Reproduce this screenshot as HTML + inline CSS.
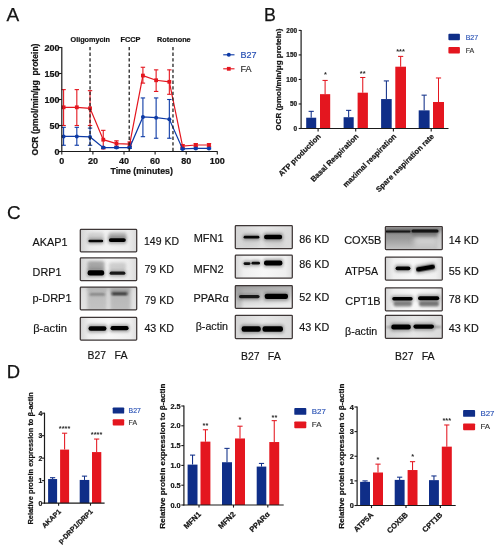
<!DOCTYPE html>
<html lang="en">
<head>
<meta charset="utf-8">
<title>Figure</title>
<style>
html,body{margin:0;padding:0;background:#fff;}
body{width:499px;height:550px;overflow:hidden;}
svg{display:block;font-family:"Liberation Sans",Arial,Helvetica,sans-serif;}
</style>
</head>
<body>
<svg width="499" height="550" viewBox="0 0 499 550">
<defs>
<filter id="b0" x="-20%" y="-100%" width="140%" height="300%"><feGaussianBlur stdDeviation="0.7"/></filter>
<filter id="b1" x="-20%" y="-100%" width="140%" height="300%"><feGaussianBlur stdDeviation="0.9"/></filter>
<filter id="b2" x="-20%" y="-100%" width="140%" height="300%"><feGaussianBlur stdDeviation="1.6"/></filter>
<filter id="b3" x="-30%" y="-100%" width="160%" height="300%"><feGaussianBlur stdDeviation="2.6"/></filter>
<linearGradient id="gL" x1="0" x2="1" y1="0" y2="0"><stop offset="0" stop-color="#d2d2d2"/><stop offset="0.18" stop-color="#ececec"/><stop offset="0.5" stop-color="#f3f3f3"/><stop offset="0.85" stop-color="#ececec"/><stop offset="1" stop-color="#dadada"/></linearGradient>
<linearGradient id="gM" x1="0" x2="0.25" y1="0" y2="1"><stop offset="0" stop-color="#959595"/><stop offset="0.5" stop-color="#c6c6c6"/><stop offset="1" stop-color="#ebebeb"/></linearGradient>
<linearGradient id="gW" x1="0" x2="1" y1="0" y2="0"><stop offset="0" stop-color="#d6d6d6"/><stop offset="0.15" stop-color="#efefef"/><stop offset="0.5" stop-color="#f7f7f7"/><stop offset="0.88" stop-color="#efefef"/><stop offset="1" stop-color="#dedede"/></linearGradient>
<linearGradient id="gG" x1="0" x2="1" y1="0" y2="0"><stop offset="0" stop-color="#d4d4d4"/><stop offset="0.5" stop-color="#e6e6e6"/><stop offset="1" stop-color="#dadada"/></linearGradient>
<linearGradient id="gP" x1="0" x2="0" y1="0" y2="1"><stop offset="0" stop-color="#b4b4b4"/><stop offset="0.25" stop-color="#cacaca"/><stop offset="1" stop-color="#d6d6d6"/></linearGradient>
<linearGradient id="gC" x1="0" x2="0" y1="0" y2="1"><stop offset="0" stop-color="#cfcfcf"/><stop offset="0.1" stop-color="#858585"/><stop offset="0.5" stop-color="#999999"/><stop offset="1" stop-color="#c4c4c4"/></linearGradient>
</defs>
<rect x="0" y="0" width="499" height="550" fill="#ffffff"/>
<text x="6.60" y="20.70" font-size="17.9" fill="#141414" textLength="12.70" lengthAdjust="spacingAndGlyphs" stroke="#141414" stroke-width="0.25">A</text>
<text x="263.90" y="20.50" font-size="17.8" fill="#141414" stroke="#141414" stroke-width="0.25">B</text>
<text x="7.10" y="219.30" font-size="18.8" fill="#141414" stroke="#141414" stroke-width="0.25">C</text>
<text x="6.70" y="377.80" font-size="18.4" fill="#141414" stroke="#141414" stroke-width="0.25">D</text>
<line x1="63.60" y1="125.50" x2="63.60" y2="89.62" stroke="#e4161f" stroke-width="1.1" />
<line x1="61.40" y1="125.50" x2="65.80" y2="125.50" stroke="#e4161f" stroke-width="1.1" />
<line x1="61.40" y1="89.62" x2="65.80" y2="89.62" stroke="#e4161f" stroke-width="1.1" />
<line x1="76.82" y1="125.50" x2="76.82" y2="89.62" stroke="#e4161f" stroke-width="1.1" />
<line x1="74.62" y1="125.50" x2="79.02" y2="125.50" stroke="#e4161f" stroke-width="1.1" />
<line x1="74.62" y1="89.62" x2="79.02" y2="89.62" stroke="#e4161f" stroke-width="1.1" />
<line x1="90.04" y1="125.50" x2="90.04" y2="90.66" stroke="#e4161f" stroke-width="1.1" />
<line x1="87.84" y1="125.50" x2="92.24" y2="125.50" stroke="#e4161f" stroke-width="1.1" />
<line x1="87.84" y1="90.66" x2="92.24" y2="90.66" stroke="#e4161f" stroke-width="1.1" />
<line x1="103.26" y1="148.90" x2="103.26" y2="130.34" stroke="#e4161f" stroke-width="1.1" />
<line x1="101.06" y1="148.90" x2="105.46" y2="148.90" stroke="#e4161f" stroke-width="1.1" />
<line x1="101.06" y1="130.34" x2="105.46" y2="130.34" stroke="#e4161f" stroke-width="1.1" />
<line x1="116.47" y1="146.30" x2="116.47" y2="140.79" stroke="#e4161f" stroke-width="1.1" />
<line x1="114.27" y1="146.30" x2="118.67" y2="146.30" stroke="#e4161f" stroke-width="1.1" />
<line x1="114.27" y1="140.79" x2="118.67" y2="140.79" stroke="#e4161f" stroke-width="1.1" />
<line x1="129.69" y1="146.30" x2="129.69" y2="141.88" stroke="#e4161f" stroke-width="1.1" />
<line x1="127.49" y1="146.30" x2="131.89" y2="146.30" stroke="#e4161f" stroke-width="1.1" />
<line x1="127.49" y1="141.88" x2="131.89" y2="141.88" stroke="#e4161f" stroke-width="1.1" />
<line x1="142.91" y1="83.12" x2="142.91" y2="67.26" stroke="#e4161f" stroke-width="1.1" />
<line x1="140.71" y1="83.12" x2="145.11" y2="83.12" stroke="#e4161f" stroke-width="1.1" />
<line x1="140.71" y1="67.26" x2="145.11" y2="67.26" stroke="#e4161f" stroke-width="1.1" />
<line x1="156.13" y1="91.44" x2="156.13" y2="69.86" stroke="#e4161f" stroke-width="1.1" />
<line x1="153.93" y1="91.44" x2="158.33" y2="91.44" stroke="#e4161f" stroke-width="1.1" />
<line x1="153.93" y1="69.86" x2="158.33" y2="69.86" stroke="#e4161f" stroke-width="1.1" />
<line x1="169.34" y1="94.30" x2="169.34" y2="69.86" stroke="#e4161f" stroke-width="1.1" />
<line x1="167.14" y1="94.30" x2="171.54" y2="94.30" stroke="#e4161f" stroke-width="1.1" />
<line x1="167.14" y1="69.86" x2="171.54" y2="69.86" stroke="#e4161f" stroke-width="1.1" />
<line x1="182.56" y1="147.34" x2="182.56" y2="144.74" stroke="#e4161f" stroke-width="1.1" />
<line x1="180.36" y1="147.34" x2="184.76" y2="147.34" stroke="#e4161f" stroke-width="1.1" />
<line x1="180.36" y1="144.74" x2="184.76" y2="144.74" stroke="#e4161f" stroke-width="1.1" />
<line x1="195.78" y1="146.30" x2="195.78" y2="143.70" stroke="#e4161f" stroke-width="1.1" />
<line x1="193.58" y1="146.30" x2="197.98" y2="146.30" stroke="#e4161f" stroke-width="1.1" />
<line x1="193.58" y1="143.70" x2="197.98" y2="143.70" stroke="#e4161f" stroke-width="1.1" />
<line x1="209.00" y1="146.30" x2="209.00" y2="143.70" stroke="#e4161f" stroke-width="1.1" />
<line x1="206.80" y1="146.30" x2="211.20" y2="146.30" stroke="#e4161f" stroke-width="1.1" />
<line x1="206.80" y1="143.70" x2="211.20" y2="143.70" stroke="#e4161f" stroke-width="1.1" />
<polyline points="63.60,107.30 76.82,107.30 90.04,108.34 103.26,139.70 116.47,143.54 129.69,144.12 142.91,75.58 156.13,80.26 169.34,81.82 182.56,146.04 195.78,145.00 209.00,145.00" fill="none" stroke="#e4161f" stroke-width="1.2"/>
<rect x="61.70" y="105.40" width="3.80" height="3.80" fill="#e4161f" />
<rect x="74.92" y="105.40" width="3.80" height="3.80" fill="#e4161f" />
<rect x="88.14" y="106.44" width="3.80" height="3.80" fill="#e4161f" />
<rect x="101.36" y="137.80" width="3.80" height="3.80" fill="#e4161f" />
<rect x="114.57" y="141.64" width="3.80" height="3.80" fill="#e4161f" />
<rect x="127.79" y="142.22" width="3.80" height="3.80" fill="#e4161f" />
<rect x="141.01" y="73.68" width="3.80" height="3.80" fill="#e4161f" />
<rect x="154.23" y="78.36" width="3.80" height="3.80" fill="#e4161f" />
<rect x="167.44" y="79.92" width="3.80" height="3.80" fill="#e4161f" />
<rect x="180.66" y="144.14" width="3.80" height="3.80" fill="#e4161f" />
<rect x="193.88" y="143.10" width="3.80" height="3.80" fill="#e4161f" />
<rect x="207.10" y="143.10" width="3.80" height="3.80" fill="#e4161f" />
<line x1="63.60" y1="145.26" x2="63.60" y2="127.32" stroke="#0d3aa6" stroke-width="1.1" />
<line x1="61.40" y1="145.26" x2="65.80" y2="145.26" stroke="#0d3aa6" stroke-width="1.1" />
<line x1="61.40" y1="127.32" x2="65.80" y2="127.32" stroke="#0d3aa6" stroke-width="1.1" />
<line x1="76.82" y1="145.26" x2="76.82" y2="127.32" stroke="#0d3aa6" stroke-width="1.1" />
<line x1="74.62" y1="145.26" x2="79.02" y2="145.26" stroke="#0d3aa6" stroke-width="1.1" />
<line x1="74.62" y1="127.32" x2="79.02" y2="127.32" stroke="#0d3aa6" stroke-width="1.1" />
<line x1="90.04" y1="145.26" x2="90.04" y2="128.10" stroke="#0d3aa6" stroke-width="1.1" />
<line x1="87.84" y1="145.26" x2="92.24" y2="145.26" stroke="#0d3aa6" stroke-width="1.1" />
<line x1="87.84" y1="128.10" x2="92.24" y2="128.10" stroke="#0d3aa6" stroke-width="1.1" />
<line x1="103.26" y1="148.38" x2="103.26" y2="146.82" stroke="#0d3aa6" stroke-width="1.1" />
<line x1="101.06" y1="148.38" x2="105.46" y2="148.38" stroke="#0d3aa6" stroke-width="1.1" />
<line x1="101.06" y1="146.82" x2="105.46" y2="146.82" stroke="#0d3aa6" stroke-width="1.1" />
<line x1="116.47" y1="148.38" x2="116.47" y2="146.82" stroke="#0d3aa6" stroke-width="1.1" />
<line x1="114.27" y1="148.38" x2="118.67" y2="148.38" stroke="#0d3aa6" stroke-width="1.1" />
<line x1="114.27" y1="146.82" x2="118.67" y2="146.82" stroke="#0d3aa6" stroke-width="1.1" />
<line x1="129.69" y1="148.38" x2="129.69" y2="146.82" stroke="#0d3aa6" stroke-width="1.1" />
<line x1="127.49" y1="148.38" x2="131.89" y2="148.38" stroke="#0d3aa6" stroke-width="1.1" />
<line x1="127.49" y1="146.82" x2="131.89" y2="146.82" stroke="#0d3aa6" stroke-width="1.1" />
<line x1="142.91" y1="136.68" x2="142.91" y2="97.94" stroke="#0d3aa6" stroke-width="1.1" />
<line x1="140.71" y1="136.68" x2="145.11" y2="136.68" stroke="#0d3aa6" stroke-width="1.1" />
<line x1="140.71" y1="97.94" x2="145.11" y2="97.94" stroke="#0d3aa6" stroke-width="1.1" />
<line x1="156.13" y1="138.24" x2="156.13" y2="97.94" stroke="#0d3aa6" stroke-width="1.1" />
<line x1="153.93" y1="138.24" x2="158.33" y2="138.24" stroke="#0d3aa6" stroke-width="1.1" />
<line x1="153.93" y1="97.94" x2="158.33" y2="97.94" stroke="#0d3aa6" stroke-width="1.1" />
<line x1="169.34" y1="138.24" x2="169.34" y2="99.50" stroke="#0d3aa6" stroke-width="1.1" />
<line x1="167.14" y1="138.24" x2="171.54" y2="138.24" stroke="#0d3aa6" stroke-width="1.1" />
<line x1="167.14" y1="99.50" x2="171.54" y2="99.50" stroke="#0d3aa6" stroke-width="1.1" />
<line x1="182.56" y1="149.42" x2="182.56" y2="148.38" stroke="#0d3aa6" stroke-width="1.1" />
<line x1="180.36" y1="149.42" x2="184.76" y2="149.42" stroke="#0d3aa6" stroke-width="1.1" />
<line x1="180.36" y1="148.38" x2="184.76" y2="148.38" stroke="#0d3aa6" stroke-width="1.1" />
<line x1="195.78" y1="148.90" x2="195.78" y2="147.86" stroke="#0d3aa6" stroke-width="1.1" />
<line x1="193.58" y1="148.90" x2="197.98" y2="148.90" stroke="#0d3aa6" stroke-width="1.1" />
<line x1="193.58" y1="147.86" x2="197.98" y2="147.86" stroke="#0d3aa6" stroke-width="1.1" />
<line x1="209.00" y1="148.90" x2="209.00" y2="147.86" stroke="#0d3aa6" stroke-width="1.1" />
<line x1="206.80" y1="148.90" x2="211.20" y2="148.90" stroke="#0d3aa6" stroke-width="1.1" />
<line x1="206.80" y1="147.86" x2="211.20" y2="147.86" stroke="#0d3aa6" stroke-width="1.1" />
<polyline points="63.60,136.42 76.82,136.42 90.04,136.94 103.26,147.60 116.47,147.60 129.69,147.60 142.91,116.92 156.13,117.70 169.34,119.26 182.56,148.90 195.78,148.38 209.00,148.38" fill="none" stroke="#0d3aa6" stroke-width="1.2"/>
<circle cx="63.60" cy="136.42" r="2" fill="#0d3aa6"/>
<circle cx="76.82" cy="136.42" r="2" fill="#0d3aa6"/>
<circle cx="90.04" cy="136.94" r="2" fill="#0d3aa6"/>
<circle cx="103.26" cy="147.60" r="2" fill="#0d3aa6"/>
<circle cx="116.47" cy="147.60" r="2" fill="#0d3aa6"/>
<circle cx="129.69" cy="147.60" r="2" fill="#0d3aa6"/>
<circle cx="142.91" cy="116.92" r="2" fill="#0d3aa6"/>
<circle cx="156.13" cy="117.70" r="2" fill="#0d3aa6"/>
<circle cx="169.34" cy="119.26" r="2" fill="#0d3aa6"/>
<circle cx="182.56" cy="148.90" r="2" fill="#0d3aa6"/>
<circle cx="195.78" cy="148.38" r="2" fill="#0d3aa6"/>
<circle cx="209.00" cy="148.38" r="2" fill="#0d3aa6"/>
<line x1="90.04" y1="47.00" x2="90.04" y2="151.50" stroke="#1c1c1c" stroke-width="1.25" stroke-dasharray="3.3 2.3"/>
<line x1="129.21" y1="47.00" x2="129.21" y2="151.50" stroke="#1c1c1c" stroke-width="1.25" stroke-dasharray="3.3 2.3"/>
<line x1="172.98" y1="47.00" x2="172.98" y2="151.50" stroke="#1c1c1c" stroke-width="1.25" stroke-dasharray="3.3 2.3"/>
<line x1="61.80" y1="47.00" x2="61.80" y2="152.10" stroke="#1a1a1a" stroke-width="1.2" />
<line x1="61.20" y1="151.50" x2="217.60" y2="151.50" stroke="#1a1a1a" stroke-width="1.2" />
<line x1="58.80" y1="151.50" x2="61.80" y2="151.50" stroke="#1a1a1a" stroke-width="1.1" />
<text x="59.50" y="154.70" font-size="9.0" font-weight="bold" stroke="#141414" stroke-width="0.22" text-anchor="end" fill="#141414" >0</text>
<line x1="58.80" y1="125.50" x2="61.80" y2="125.50" stroke="#1a1a1a" stroke-width="1.1" />
<text x="59.50" y="128.70" font-size="9.0" font-weight="bold" stroke="#141414" stroke-width="0.22" text-anchor="end" fill="#141414" >50</text>
<line x1="58.80" y1="99.50" x2="61.80" y2="99.50" stroke="#1a1a1a" stroke-width="1.1" />
<text x="59.50" y="102.70" font-size="9.0" font-weight="bold" stroke="#141414" stroke-width="0.22" text-anchor="end" fill="#141414" >100</text>
<line x1="58.80" y1="73.50" x2="61.80" y2="73.50" stroke="#1a1a1a" stroke-width="1.1" />
<text x="59.50" y="76.70" font-size="9.0" font-weight="bold" stroke="#141414" stroke-width="0.22" text-anchor="end" fill="#141414" >150</text>
<line x1="58.80" y1="47.50" x2="61.80" y2="47.50" stroke="#1a1a1a" stroke-width="1.1" />
<text x="59.50" y="50.70" font-size="9.0" font-weight="bold" stroke="#141414" stroke-width="0.22" text-anchor="end" fill="#141414" >200</text>
<line x1="61.80" y1="151.50" x2="61.80" y2="154.50" stroke="#1a1a1a" stroke-width="1.1" />
<text x="61.80" y="163.80" font-size="9.0" font-weight="bold" stroke="#141414" stroke-width="0.22" text-anchor="middle" fill="#141414" >0</text>
<line x1="92.90" y1="151.50" x2="92.90" y2="154.50" stroke="#1a1a1a" stroke-width="1.1" />
<text x="92.90" y="163.80" font-size="9.0" font-weight="bold" stroke="#141414" stroke-width="0.22" text-anchor="middle" fill="#141414" >20</text>
<line x1="124.00" y1="151.50" x2="124.00" y2="154.50" stroke="#1a1a1a" stroke-width="1.1" />
<text x="124.00" y="163.80" font-size="9.0" font-weight="bold" stroke="#141414" stroke-width="0.22" text-anchor="middle" fill="#141414" >40</text>
<line x1="155.10" y1="151.50" x2="155.10" y2="154.50" stroke="#1a1a1a" stroke-width="1.1" />
<text x="155.10" y="163.80" font-size="9.0" font-weight="bold" stroke="#141414" stroke-width="0.22" text-anchor="middle" fill="#141414" >60</text>
<line x1="186.20" y1="151.50" x2="186.20" y2="154.50" stroke="#1a1a1a" stroke-width="1.1" />
<text x="186.20" y="163.80" font-size="9.0" font-weight="bold" stroke="#141414" stroke-width="0.22" text-anchor="middle" fill="#141414" >80</text>
<line x1="217.30" y1="151.50" x2="217.30" y2="154.50" stroke="#1a1a1a" stroke-width="1.1" />
<text x="217.30" y="163.80" font-size="9.0" font-weight="bold" stroke="#141414" stroke-width="0.22" text-anchor="middle" fill="#141414" >100</text>
<text x="141.70" y="173.60" font-size="8.8" font-weight="bold" stroke="#141414" stroke-width="0.22" text-anchor="middle" fill="#141414" textLength="62.50" lengthAdjust="spacingAndGlyphs" >Time (minutes)</text>
<text x="37.70" y="155.50" font-size="8.6" font-weight="bold" stroke="#141414" stroke-width="0.22" fill="#141414" transform="rotate(-90 37.70 155.50)" textLength="112.00" lengthAdjust="spacingAndGlyphs" >OCR (pmol/min/μg&#160; protein)</text>
<text x="70.50" y="42.40" font-size="7.3" font-weight="bold" stroke="#141414" stroke-width="0.22" fill="#141414" textLength="39.50" lengthAdjust="spacingAndGlyphs" >Oligomycin</text>
<text x="120.50" y="42.40" font-size="7.3" font-weight="bold" stroke="#141414" stroke-width="0.22" fill="#141414" >FCCP</text>
<text x="157.00" y="42.40" font-size="7.3" font-weight="bold" stroke="#141414" stroke-width="0.22" fill="#141414" >Rotenone</text>
<line x1="223.20" y1="54.80" x2="234.50" y2="54.80" stroke="#0d3aa6" stroke-width="1.1" />
<circle cx="228.8" cy="54.8" r="2" fill="#0d3aa6"/>
<line x1="223.20" y1="68.80" x2="234.50" y2="68.80" stroke="#e4161f" stroke-width="1.1" />
<rect x="226.90" y="66.90" width="3.80" height="3.80" fill="#e4161f" />
<text x="240.50" y="58.00" font-size="9" fill="#2a52b5" stroke="#2a52b5" stroke-width="0.2">B27</text>
<text x="240.50" y="71.90" font-size="9" fill="#333" stroke="#333" stroke-width="0.2">FA</text>
<rect x="306.20" y="117.71" width="10.00" height="10.79" fill="#0f2e88" />
<line x1="311.20" y1="117.71" x2="311.20" y2="111.33" stroke="#0f2e88" stroke-width="1.05" />
<line x1="308.60" y1="111.33" x2="313.80" y2="111.33" stroke="#0f2e88" stroke-width="1.05" />
<rect x="320.00" y="94.16" width="10.20" height="34.34" fill="#e4161f" />
<line x1="325.10" y1="94.16" x2="325.10" y2="80.43" stroke="#e4161f" stroke-width="1.05" />
<line x1="322.50" y1="80.43" x2="327.70" y2="80.43" stroke="#e4161f" stroke-width="1.05" />
<rect x="343.60" y="117.22" width="10.10" height="11.28" fill="#0f2e88" />
<line x1="348.65" y1="117.22" x2="348.65" y2="110.35" stroke="#0f2e88" stroke-width="1.05" />
<line x1="346.05" y1="110.35" x2="351.25" y2="110.35" stroke="#0f2e88" stroke-width="1.05" />
<rect x="357.60" y="92.69" width="10.30" height="35.81" fill="#e4161f" />
<line x1="362.75" y1="92.69" x2="362.75" y2="77.49" stroke="#e4161f" stroke-width="1.05" />
<line x1="360.15" y1="77.49" x2="365.35" y2="77.49" stroke="#e4161f" stroke-width="1.05" />
<rect x="381.10" y="99.07" width="10.60" height="29.43" fill="#0f2e88" />
<line x1="386.40" y1="99.07" x2="386.40" y2="80.92" stroke="#0f2e88" stroke-width="1.05" />
<line x1="383.80" y1="80.92" x2="389.00" y2="80.92" stroke="#0f2e88" stroke-width="1.05" />
<rect x="395.30" y="66.70" width="10.70" height="61.80" fill="#e4161f" />
<line x1="400.65" y1="66.70" x2="400.65" y2="56.40" stroke="#e4161f" stroke-width="1.05" />
<line x1="398.05" y1="56.40" x2="403.25" y2="56.40" stroke="#e4161f" stroke-width="1.05" />
<rect x="418.70" y="110.35" width="10.90" height="18.15" fill="#0f2e88" />
<line x1="424.15" y1="110.35" x2="424.15" y2="95.15" stroke="#0f2e88" stroke-width="1.05" />
<line x1="421.55" y1="95.15" x2="426.75" y2="95.15" stroke="#0f2e88" stroke-width="1.05" />
<rect x="433.00" y="102.01" width="11.00" height="26.49" fill="#e4161f" />
<line x1="438.50" y1="102.01" x2="438.50" y2="77.98" stroke="#e4161f" stroke-width="1.05" />
<line x1="435.90" y1="77.98" x2="441.10" y2="77.98" stroke="#e4161f" stroke-width="1.05" />
<line x1="301.10" y1="30.00" x2="301.10" y2="129.10" stroke="#1a1a1a" stroke-width="1.2" />
<line x1="300.50" y1="128.50" x2="448.50" y2="128.50" stroke="#1a1a1a" stroke-width="1.2" />
<line x1="298.70" y1="128.50" x2="301.10" y2="128.50" stroke="#1a1a1a" stroke-width="1.1" />
<text x="297.00" y="130.80" font-size="6.4" font-weight="bold" stroke="#141414" stroke-width="0.22" text-anchor="end" fill="#141414" >0</text>
<line x1="298.70" y1="103.97" x2="301.10" y2="103.97" stroke="#1a1a1a" stroke-width="1.1" />
<text x="297.00" y="106.27" font-size="6.4" font-weight="bold" stroke="#141414" stroke-width="0.22" text-anchor="end" fill="#141414" >50</text>
<line x1="298.70" y1="79.45" x2="301.10" y2="79.45" stroke="#1a1a1a" stroke-width="1.1" />
<text x="297.00" y="81.75" font-size="6.4" font-weight="bold" stroke="#141414" stroke-width="0.22" text-anchor="end" fill="#141414" >100</text>
<line x1="298.70" y1="54.92" x2="301.10" y2="54.92" stroke="#1a1a1a" stroke-width="1.1" />
<text x="297.00" y="57.22" font-size="6.4" font-weight="bold" stroke="#141414" stroke-width="0.22" text-anchor="end" fill="#141414" >150</text>
<line x1="298.70" y1="30.40" x2="301.10" y2="30.40" stroke="#1a1a1a" stroke-width="1.1" />
<text x="297.00" y="32.70" font-size="6.4" font-weight="bold" stroke="#141414" stroke-width="0.22" text-anchor="end" fill="#141414" >200</text>
<line x1="318.10" y1="128.50" x2="318.10" y2="131.50" stroke="#1a1a1a" stroke-width="1.1" />
<text x="321.40" y="137.00" font-size="7.6" font-weight="bold" stroke="#141414" stroke-width="0.22" text-anchor="end" fill="#141414" transform="rotate(-45 321.40 137.00)" >ATP production</text>
<line x1="355.70" y1="128.50" x2="355.70" y2="131.50" stroke="#1a1a1a" stroke-width="1.1" />
<text x="359.00" y="137.00" font-size="7.6" font-weight="bold" stroke="#141414" stroke-width="0.22" text-anchor="end" fill="#141414" transform="rotate(-45 359.00 137.00)" >Basal Respiration</text>
<line x1="393.40" y1="128.50" x2="393.40" y2="131.50" stroke="#1a1a1a" stroke-width="1.1" />
<text x="396.70" y="137.00" font-size="7.6" font-weight="bold" stroke="#141414" stroke-width="0.22" text-anchor="end" fill="#141414" transform="rotate(-45 396.70 137.00)" >maximal respiration</text>
<line x1="431.20" y1="128.50" x2="431.20" y2="131.50" stroke="#1a1a1a" stroke-width="1.1" />
<text x="434.50" y="137.00" font-size="7.6" font-weight="bold" stroke="#141414" stroke-width="0.22" text-anchor="end" fill="#141414" transform="rotate(-45 434.50 137.00)" >Spare respiration rate</text>
<text x="281.30" y="130.50" font-size="7.5" font-weight="bold" stroke="#141414" stroke-width="0.22" fill="#141414" transform="rotate(-90 281.30 130.50)" textLength="102.00" lengthAdjust="spacingAndGlyphs" >OCR (pmol/min/μg protein)</text>
<text x="325.40" y="76.60" font-size="7.4" text-anchor="middle" fill="#2a2a2a" font-weight="bold">*</text>
<text x="362.70" y="75.50" font-size="7.4" text-anchor="middle" fill="#2a2a2a" font-weight="bold">**</text>
<text x="400.50" y="54.00" font-size="7.4" text-anchor="middle" fill="#2a2a2a" font-weight="bold">***</text>
<rect x="448.40" y="33.80" width="11.50" height="6.40" fill="#0f2e88" rx="0.9"/>
<rect x="448.40" y="47.10" width="11.50" height="6.40" fill="#e4161f" rx="0.9"/>
<text x="465.70" y="39.80" font-size="7.0" fill="#2a52b5" stroke="#2a52b5" stroke-width="0.15">B27</text>
<text x="465.70" y="53.00" font-size="7.0" fill="#333" stroke="#333" stroke-width="0.15">FA</text>
<rect x="48.10" y="479.05" width="9.00" height="24.05" fill="#0f2e88" />
<line x1="52.60" y1="479.05" x2="52.60" y2="477.70" stroke="#0f2e88" stroke-width="1.05" />
<line x1="50.00" y1="477.70" x2="55.20" y2="477.70" stroke="#0f2e88" stroke-width="1.05" />
<rect x="60.10" y="449.61" width="9.00" height="53.49" fill="#e4161f" />
<line x1="64.60" y1="449.61" x2="64.60" y2="433.20" stroke="#e4161f" stroke-width="1.05" />
<line x1="62.00" y1="433.20" x2="67.20" y2="433.20" stroke="#e4161f" stroke-width="1.05" />
<rect x="79.70" y="479.95" width="9.60" height="23.15" fill="#0f2e88" />
<line x1="84.50" y1="479.95" x2="84.50" y2="476.13" stroke="#0f2e88" stroke-width="1.05" />
<line x1="81.90" y1="476.13" x2="87.10" y2="476.13" stroke="#0f2e88" stroke-width="1.05" />
<rect x="92.00" y="452.08" width="9.30" height="51.02" fill="#e4161f" />
<line x1="96.65" y1="452.08" x2="96.65" y2="439.05" stroke="#e4161f" stroke-width="1.05" />
<line x1="94.05" y1="439.05" x2="99.25" y2="439.05" stroke="#e4161f" stroke-width="1.05" />
<line x1="44.50" y1="412.70" x2="44.50" y2="503.70" stroke="#1a1a1a" stroke-width="1.2" />
<line x1="43.90" y1="503.10" x2="104.60" y2="503.10" stroke="#1a1a1a" stroke-width="1.2" />
<line x1="41.90" y1="503.10" x2="44.50" y2="503.10" stroke="#1a1a1a" stroke-width="1.1" />
<text x="42.40" y="505.55" font-size="6.8" font-weight="bold" stroke="#141414" stroke-width="0.22" text-anchor="end" fill="#141414" >0</text>
<line x1="41.90" y1="480.62" x2="44.50" y2="480.62" stroke="#1a1a1a" stroke-width="1.1" />
<text x="42.40" y="483.07" font-size="6.8" font-weight="bold" stroke="#141414" stroke-width="0.22" text-anchor="end" fill="#141414" >1</text>
<line x1="41.90" y1="458.15" x2="44.50" y2="458.15" stroke="#1a1a1a" stroke-width="1.1" />
<text x="42.40" y="460.60" font-size="6.8" font-weight="bold" stroke="#141414" stroke-width="0.22" text-anchor="end" fill="#141414" >2</text>
<line x1="41.90" y1="435.68" x2="44.50" y2="435.68" stroke="#1a1a1a" stroke-width="1.1" />
<text x="42.40" y="438.12" font-size="6.8" font-weight="bold" stroke="#141414" stroke-width="0.22" text-anchor="end" fill="#141414" >3</text>
<line x1="41.90" y1="413.20" x2="44.50" y2="413.20" stroke="#1a1a1a" stroke-width="1.1" />
<text x="42.40" y="415.65" font-size="6.8" font-weight="bold" stroke="#141414" stroke-width="0.22" text-anchor="end" fill="#141414" >4</text>
<line x1="58.60" y1="503.10" x2="58.60" y2="505.70" stroke="#1a1a1a" stroke-width="1.1" />
<text x="61.40" y="511.90" font-size="6.95" font-weight="bold" stroke="#141414" stroke-width="0.22" text-anchor="end" fill="#141414" transform="rotate(-45 61.40 511.90)" >AKAP1</text>
<line x1="90.50" y1="503.10" x2="90.50" y2="505.70" stroke="#1a1a1a" stroke-width="1.1" />
<text x="93.30" y="511.90" font-size="6.95" font-weight="bold" stroke="#141414" stroke-width="0.22" text-anchor="end" fill="#141414" transform="rotate(-45 93.30 511.90)" >p-DRP1/DRP1</text>
<text x="32.60" y="524.60" font-size="7.8" font-weight="bold" stroke="#141414" stroke-width="0.22" fill="#141414" transform="rotate(-90 32.60 524.60)" textLength="132.40" lengthAdjust="spacingAndGlyphs" >Relative protein expression to β-actin</text>
<rect x="112.70" y="407.40" width="11.50" height="6.20" fill="#0f2e88" rx="0.9"/>
<rect x="112.70" y="419.30" width="11.50" height="6.20" fill="#e4161f" rx="0.9"/>
<text x="128.60" y="413.10" font-size="6.9" fill="#2a52b5" stroke="#2a52b5" stroke-width="0.15">B27</text>
<text x="128.60" y="425.00" font-size="6.9" fill="#333" stroke="#333" stroke-width="0.15">FA</text>
<text x="64.60" y="431.10" font-size="7.4" text-anchor="middle" fill="#2a2a2a" font-weight="bold">****</text>
<text x="96.60" y="437.10" font-size="7.4" text-anchor="middle" fill="#2a2a2a" font-weight="bold">****</text>
<rect x="187.60" y="464.61" width="9.90" height="40.39" fill="#0f2e88" />
<line x1="192.55" y1="464.61" x2="192.55" y2="455.10" stroke="#0f2e88" stroke-width="1.05" />
<line x1="189.95" y1="455.10" x2="195.15" y2="455.10" stroke="#0f2e88" stroke-width="1.05" />
<rect x="200.50" y="441.64" width="9.90" height="63.36" fill="#e4161f" />
<line x1="205.45" y1="441.64" x2="205.45" y2="429.76" stroke="#e4161f" stroke-width="1.05" />
<line x1="202.85" y1="429.76" x2="208.05" y2="429.76" stroke="#e4161f" stroke-width="1.05" />
<rect x="222.00" y="462.23" width="10.00" height="42.77" fill="#0f2e88" />
<line x1="227.00" y1="462.23" x2="227.00" y2="448.37" stroke="#0f2e88" stroke-width="1.05" />
<line x1="224.40" y1="448.37" x2="229.60" y2="448.37" stroke="#0f2e88" stroke-width="1.05" />
<rect x="235.00" y="438.47" width="10.00" height="66.53" fill="#e4161f" />
<line x1="240.00" y1="438.47" x2="240.00" y2="426.20" stroke="#e4161f" stroke-width="1.05" />
<line x1="237.40" y1="426.20" x2="242.60" y2="426.20" stroke="#e4161f" stroke-width="1.05" />
<rect x="256.70" y="466.59" width="9.60" height="38.41" fill="#0f2e88" />
<line x1="261.50" y1="466.59" x2="261.50" y2="463.42" stroke="#0f2e88" stroke-width="1.05" />
<line x1="258.90" y1="463.42" x2="264.10" y2="463.42" stroke="#0f2e88" stroke-width="1.05" />
<rect x="269.30" y="442.04" width="9.90" height="62.96" fill="#e4161f" />
<line x1="274.25" y1="442.04" x2="274.25" y2="420.65" stroke="#e4161f" stroke-width="1.05" />
<line x1="271.65" y1="420.65" x2="276.85" y2="420.65" stroke="#e4161f" stroke-width="1.05" />
<line x1="183.90" y1="405.50" x2="183.90" y2="505.60" stroke="#1a1a1a" stroke-width="1.2" />
<line x1="183.30" y1="505.00" x2="283.70" y2="505.00" stroke="#1a1a1a" stroke-width="1.2" />
<line x1="181.30" y1="505.00" x2="183.90" y2="505.00" stroke="#1a1a1a" stroke-width="1.1" />
<text x="180.60" y="507.63" font-size="7.3" font-weight="bold" stroke="#141414" stroke-width="0.22" text-anchor="end" fill="#141414" >0.0</text>
<line x1="181.30" y1="485.20" x2="183.90" y2="485.20" stroke="#1a1a1a" stroke-width="1.1" />
<text x="180.60" y="487.83" font-size="7.3" font-weight="bold" stroke="#141414" stroke-width="0.22" text-anchor="end" fill="#141414" >0.5</text>
<line x1="181.30" y1="465.40" x2="183.90" y2="465.40" stroke="#1a1a1a" stroke-width="1.1" />
<text x="180.60" y="468.03" font-size="7.3" font-weight="bold" stroke="#141414" stroke-width="0.22" text-anchor="end" fill="#141414" >1.0</text>
<line x1="181.30" y1="445.60" x2="183.90" y2="445.60" stroke="#1a1a1a" stroke-width="1.1" />
<text x="180.60" y="448.23" font-size="7.3" font-weight="bold" stroke="#141414" stroke-width="0.22" text-anchor="end" fill="#141414" >1.5</text>
<line x1="181.30" y1="425.80" x2="183.90" y2="425.80" stroke="#1a1a1a" stroke-width="1.1" />
<text x="180.60" y="428.43" font-size="7.3" font-weight="bold" stroke="#141414" stroke-width="0.22" text-anchor="end" fill="#141414" >2.0</text>
<line x1="181.30" y1="406.00" x2="183.90" y2="406.00" stroke="#1a1a1a" stroke-width="1.1" />
<text x="180.60" y="408.63" font-size="7.3" font-weight="bold" stroke="#141414" stroke-width="0.22" text-anchor="end" fill="#141414" >2.5</text>
<line x1="199.00" y1="505.00" x2="199.00" y2="507.60" stroke="#1a1a1a" stroke-width="1.1" />
<text x="201.40" y="514.80" font-size="7.55" font-weight="bold" stroke="#141414" stroke-width="0.22" text-anchor="end" fill="#141414" transform="rotate(-45 201.40 514.80)" >MFN1</text>
<line x1="233.50" y1="505.00" x2="233.50" y2="507.60" stroke="#1a1a1a" stroke-width="1.1" />
<text x="235.90" y="514.80" font-size="7.55" font-weight="bold" stroke="#141414" stroke-width="0.22" text-anchor="end" fill="#141414" transform="rotate(-45 235.90 514.80)" >MFN2</text>
<line x1="267.80" y1="505.00" x2="267.80" y2="507.60" stroke="#1a1a1a" stroke-width="1.1" />
<text x="270.20" y="514.80" font-size="7.55" font-weight="bold" stroke="#141414" stroke-width="0.22" text-anchor="end" fill="#141414" transform="rotate(-45 270.20 514.80)" >PPARα</text>
<text x="165.40" y="528.70" font-size="7.8" font-weight="bold" stroke="#141414" stroke-width="0.22" fill="#141414" transform="rotate(-90 165.40 528.70)" textLength="145.20" lengthAdjust="spacingAndGlyphs" >Relative protein expression to β-actin</text>
<rect x="294.30" y="408.00" width="12.00" height="6.80" fill="#0f2e88" rx="0.9"/>
<rect x="294.30" y="421.40" width="12.00" height="6.80" fill="#e4161f" rx="0.9"/>
<text x="311.80" y="413.70" font-size="7.9" fill="#2a52b5" stroke="#2a52b5" stroke-width="0.15">B27</text>
<text x="311.80" y="427.10" font-size="7.9" fill="#333" stroke="#333" stroke-width="0.15">FA</text>
<text x="205.40" y="427.60" font-size="7.4" text-anchor="middle" fill="#2a2a2a" font-weight="bold">**</text>
<text x="240.00" y="421.60" font-size="7.4" text-anchor="middle" fill="#2a2a2a" font-weight="bold">*</text>
<text x="274.40" y="419.60" font-size="7.4" text-anchor="middle" fill="#2a2a2a" font-weight="bold">**</text>
<rect x="360.10" y="481.86" width="9.90" height="23.64" fill="#0f2e88" />
<line x1="365.05" y1="481.86" x2="365.05" y2="480.88" stroke="#0f2e88" stroke-width="1.05" />
<line x1="362.45" y1="480.88" x2="367.65" y2="480.88" stroke="#0f2e88" stroke-width="1.05" />
<rect x="373.00" y="472.50" width="10.00" height="33.00" fill="#e4161f" />
<line x1="378.00" y1="472.50" x2="378.00" y2="464.13" stroke="#e4161f" stroke-width="1.05" />
<line x1="375.40" y1="464.13" x2="380.60" y2="464.13" stroke="#e4161f" stroke-width="1.05" />
<rect x="394.70" y="479.89" width="9.90" height="25.61" fill="#0f2e88" />
<line x1="399.65" y1="479.89" x2="399.65" y2="477.18" stroke="#0f2e88" stroke-width="1.05" />
<line x1="397.05" y1="477.18" x2="402.25" y2="477.18" stroke="#0f2e88" stroke-width="1.05" />
<rect x="407.60" y="470.04" width="9.90" height="35.46" fill="#e4161f" />
<line x1="412.55" y1="470.04" x2="412.55" y2="461.67" stroke="#e4161f" stroke-width="1.05" />
<line x1="409.95" y1="461.67" x2="415.15" y2="461.67" stroke="#e4161f" stroke-width="1.05" />
<rect x="429.00" y="480.14" width="9.90" height="25.36" fill="#0f2e88" />
<line x1="433.95" y1="480.14" x2="433.95" y2="475.95" stroke="#0f2e88" stroke-width="1.05" />
<line x1="431.35" y1="475.95" x2="436.55" y2="475.95" stroke="#0f2e88" stroke-width="1.05" />
<rect x="441.80" y="446.65" width="10.00" height="58.85" fill="#e4161f" />
<line x1="446.80" y1="446.65" x2="446.80" y2="424.98" stroke="#e4161f" stroke-width="1.05" />
<line x1="444.20" y1="424.98" x2="449.40" y2="424.98" stroke="#e4161f" stroke-width="1.05" />
<line x1="357.10" y1="406.50" x2="357.10" y2="506.10" stroke="#1a1a1a" stroke-width="1.2" />
<line x1="356.50" y1="505.50" x2="455.70" y2="505.50" stroke="#1a1a1a" stroke-width="1.2" />
<line x1="354.50" y1="505.50" x2="357.10" y2="505.50" stroke="#1a1a1a" stroke-width="1.1" />
<text x="353.80" y="508.13" font-size="7.3" font-weight="bold" stroke="#141414" stroke-width="0.22" text-anchor="end" fill="#141414" >0</text>
<line x1="354.50" y1="480.88" x2="357.10" y2="480.88" stroke="#1a1a1a" stroke-width="1.1" />
<text x="353.80" y="483.50" font-size="7.3" font-weight="bold" stroke="#141414" stroke-width="0.22" text-anchor="end" fill="#141414" >1</text>
<line x1="354.50" y1="456.25" x2="357.10" y2="456.25" stroke="#1a1a1a" stroke-width="1.1" />
<text x="353.80" y="458.88" font-size="7.3" font-weight="bold" stroke="#141414" stroke-width="0.22" text-anchor="end" fill="#141414" >2</text>
<line x1="354.50" y1="431.62" x2="357.10" y2="431.62" stroke="#1a1a1a" stroke-width="1.1" />
<text x="353.80" y="434.25" font-size="7.3" font-weight="bold" stroke="#141414" stroke-width="0.22" text-anchor="end" fill="#141414" >3</text>
<line x1="354.50" y1="407.00" x2="357.10" y2="407.00" stroke="#1a1a1a" stroke-width="1.1" />
<text x="353.80" y="409.63" font-size="7.3" font-weight="bold" stroke="#141414" stroke-width="0.22" text-anchor="end" fill="#141414" >4</text>
<line x1="371.50" y1="505.50" x2="371.50" y2="508.10" stroke="#1a1a1a" stroke-width="1.1" />
<text x="373.90" y="515.30" font-size="7.55" font-weight="bold" stroke="#141414" stroke-width="0.22" text-anchor="end" fill="#141414" transform="rotate(-45 373.90 515.30)" >ATP5A</text>
<line x1="406.00" y1="505.50" x2="406.00" y2="508.10" stroke="#1a1a1a" stroke-width="1.1" />
<text x="408.40" y="515.30" font-size="7.55" font-weight="bold" stroke="#141414" stroke-width="0.22" text-anchor="end" fill="#141414" transform="rotate(-45 408.40 515.30)" >COX5B</text>
<line x1="440.40" y1="505.50" x2="440.40" y2="508.10" stroke="#1a1a1a" stroke-width="1.1" />
<text x="442.80" y="515.30" font-size="7.55" font-weight="bold" stroke="#141414" stroke-width="0.22" text-anchor="end" fill="#141414" transform="rotate(-45 442.80 515.30)" >CPT1B</text>
<text x="344.20" y="528.70" font-size="7.8" font-weight="bold" stroke="#141414" stroke-width="0.22" fill="#141414" transform="rotate(-90 344.20 528.70)" textLength="145.20" lengthAdjust="spacingAndGlyphs" >Relative protein expression to β-actin</text>
<rect x="463.10" y="410.00" width="12.00" height="6.80" fill="#0f2e88" rx="0.9"/>
<rect x="463.10" y="423.40" width="12.00" height="6.80" fill="#e4161f" rx="0.9"/>
<text x="480.40" y="415.70" font-size="7.9" fill="#2a52b5" stroke="#2a52b5" stroke-width="0.15">B27</text>
<text x="480.40" y="429.10" font-size="7.9" fill="#333" stroke="#333" stroke-width="0.15">FA</text>
<text x="378.00" y="461.60" font-size="7.4" text-anchor="middle" fill="#2a2a2a" font-weight="bold">*</text>
<text x="412.60" y="459.20" font-size="7.4" text-anchor="middle" fill="#2a2a2a" font-weight="bold">*</text>
<text x="446.70" y="422.60" font-size="7.4" text-anchor="middle" fill="#2a2a2a" font-weight="bold">***</text>
<clipPath id="c1"><rect x="80.3" y="229.4" width="56.40" height="22.40"/></clipPath>
<rect x="80.3" y="229.4" width="56.40" height="22.40" fill="url(#gL)"/>
<g clip-path="url(#c1)">
<rect x="88.00" y="232.50" width="16.00" height="7.00" rx="2.20" fill="#999" opacity="0.35" filter="url(#b2)" />
<rect x="108.50" y="232.50" width="18.00" height="7.00" rx="2.20" fill="#777" opacity="0.5" filter="url(#b2)" />
<rect x="87.60" y="237.95" width="16.40" height="6.10" rx="2.20" fill="#444" opacity="0.4275" filter="url(#b2)" />
<rect x="88.40" y="239.65" width="14.80" height="2.70" rx="1.35" fill="#060606" opacity="0.95" filter="url(#b0)" />
<rect x="108.00" y="236.45" width="18.60" height="7.30" rx="2.20" fill="#444" opacity="0.45" filter="url(#b2)" />
<rect x="108.80" y="238.15" width="17.00" height="3.90" rx="1.95" fill="#060606" opacity="1.0" filter="url(#b0)" />
</g>
<rect x="80.3" y="229.4" width="56.40" height="22.40" rx="0.8" fill="none" stroke="#3d3636" stroke-width="1.25"/>
<clipPath id="c2"><rect x="80.3" y="257.9" width="56.40" height="22.70"/></clipPath>
<rect x="80.3" y="257.9" width="56.40" height="22.70" fill="url(#gL)"/>
<g clip-path="url(#c2)">
<rect x="87.50" y="261.00" width="17.00" height="9.00" rx="2.20" fill="#777" opacity="0.6" filter="url(#b2)" />
<rect x="109.00" y="262.50" width="17.00" height="8.00" rx="2.20" fill="#999" opacity="0.4" filter="url(#b2)" />
<rect x="86.80" y="268.50" width="18.20" height="8.60" rx="2.20" fill="#444" opacity="0.45" filter="url(#b2)" />
<rect x="87.60" y="270.20" width="16.60" height="5.20" rx="2.20" fill="#060606" opacity="1.0" filter="url(#b0)" />
<rect x="108.80" y="269.90" width="17.40" height="6.60" rx="2.20" fill="#444" opacity="0.3825" filter="url(#b2)" />
<rect x="109.60" y="271.60" width="15.80" height="3.20" rx="1.60" fill="#060606" opacity="0.85" filter="url(#b0)" />
</g>
<rect x="80.3" y="257.9" width="56.40" height="22.70" rx="0.8" fill="none" stroke="#3d3636" stroke-width="1.25"/>
<clipPath id="c3"><rect x="80.3" y="287.2" width="56.40" height="22.70"/></clipPath>
<rect x="80.3" y="287.2" width="56.40" height="22.70" fill="url(#gP)"/>
<g clip-path="url(#c3)">
<rect x="80.00" y="286.00" width="7.00" height="26.00" rx="2.20" fill="#e8e8e8" opacity="0.7" filter="url(#b2)" />
<rect x="131.00" y="286.00" width="6.00" height="26.00" rx="2.20" fill="#e8e8e8" opacity="0.7" filter="url(#b2)" />
<rect x="88.00" y="288.00" width="18.00" height="24.00" rx="2.20" fill="#a8a8a8" opacity="0.4" filter="url(#b2)" />
<rect x="110.60" y="288.00" width="19.40" height="24.00" rx="2.20" fill="#a0a0a0" opacity="0.45" filter="url(#b2)" />
<rect x="107.00" y="288.00" width="3.00" height="24.00" rx="2.20" fill="#e0e0e0" opacity="0.5" filter="url(#b1)" />
<rect x="89.50" y="293.50" width="15.50" height="1.80" rx="0.90" fill="#444" opacity="0.7" filter="url(#b1)" />
<rect x="111.60" y="292.50" width="15.90" height="2.40" rx="1.20" fill="#0c0c0c" opacity="1" filter="url(#b1)" />
<rect x="111.00" y="290.00" width="18.00" height="3.00" rx="1.50" fill="#777" opacity="0.5" filter="url(#b2)" />
</g>
<rect x="80.3" y="287.2" width="56.40" height="22.70" rx="0.8" fill="none" stroke="#3d3636" stroke-width="1.25"/>
<clipPath id="c4"><rect x="80.3" y="317.4" width="56.40" height="22.60"/></clipPath>
<rect x="80.3" y="317.4" width="56.40" height="22.60" fill="url(#gW)"/>
<g clip-path="url(#c4)">
<rect x="87.70" y="324.55" width="19.60" height="7.90" rx="2.20" fill="#444" opacity="0.45" filter="url(#b2)" />
<rect x="88.50" y="326.25" width="18.00" height="4.50" rx="2.20" fill="#060606" opacity="1.0" filter="url(#b0)" />
<rect x="109.70" y="324.40" width="19.70" height="7.60" rx="2.20" fill="#444" opacity="0.45" filter="url(#b2)" />
<rect x="110.50" y="326.10" width="18.10" height="4.20" rx="2.10" fill="#060606" opacity="1.0" filter="url(#b0)" />
</g>
<rect x="80.3" y="317.4" width="56.40" height="22.60" rx="0.8" fill="none" stroke="#3d3636" stroke-width="1.25"/>
<clipPath id="c5"><rect x="235.3" y="225.7" width="57.00" height="22.90"/></clipPath>
<rect x="235.3" y="225.7" width="57.00" height="22.90" fill="url(#gG)"/>
<g clip-path="url(#c5)">
<rect x="243.00" y="235.00" width="17.00" height="12.00" rx="2.20" fill="#c4c4c4" opacity="0.5" filter="url(#b3)" />
<rect x="264.00" y="235.00" width="19.00" height="12.00" rx="2.20" fill="#bbb" opacity="0.5" filter="url(#b3)" />
<rect x="242.80" y="234.15" width="17.40" height="6.10" rx="2.20" fill="#444" opacity="0.4275" filter="url(#b2)" />
<rect x="243.60" y="235.85" width="15.80" height="2.70" rx="1.35" fill="#060606" opacity="0.95" filter="url(#b0)" />
<rect x="263.20" y="233.05" width="19.80" height="7.90" rx="2.20" fill="#444" opacity="0.45" filter="url(#b2)" />
<rect x="264.00" y="234.75" width="18.20" height="4.50" rx="2.20" fill="#060606" opacity="1.0" filter="url(#b0)" />
</g>
<rect x="235.3" y="225.7" width="57.00" height="22.90" rx="0.8" fill="none" stroke="#3d3636" stroke-width="1.25"/>
<clipPath id="c6"><rect x="235.3" y="255.1" width="57.00" height="22.90"/></clipPath>
<rect x="235.3" y="255.1" width="57.00" height="22.90" fill="url(#gW)"/>
<g clip-path="url(#c6)">
<rect x="242.80" y="260.60" width="8.50" height="6.00" rx="2.20" fill="#444" opacity="0.405" filter="url(#b2)" />
<rect x="243.60" y="262.30" width="6.90" height="2.60" rx="1.30" fill="#060606" opacity="0.9" filter="url(#b0)" />
<rect x="250.70" y="260.10" width="10.10" height="6.20" rx="2.20" fill="#444" opacity="0.41400000000000003" filter="url(#b2)" />
<rect x="251.50" y="261.80" width="8.50" height="2.80" rx="1.40" fill="#060606" opacity="0.92" filter="url(#b0)" />
<rect x="263.20" y="258.80" width="20.00" height="8.40" rx="2.20" fill="#444" opacity="0.45" filter="url(#b2)" />
<rect x="264.00" y="260.50" width="18.40" height="5.00" rx="2.20" fill="#060606" opacity="1.0" filter="url(#b0)" />
</g>
<rect x="235.3" y="255.1" width="57.00" height="22.90" rx="0.8" fill="none" stroke="#3d3636" stroke-width="1.25"/>
<clipPath id="c7"><rect x="235.3" y="285.6" width="57.00" height="22.70"/></clipPath>
<rect x="235.3" y="285.6" width="57.00" height="22.70" fill="url(#gM)"/>
<g clip-path="url(#c7)">
<rect x="235.00" y="282.00" width="7.00" height="30.00" rx="2.20" fill="#999" opacity="0.4" filter="url(#b2)" />
<rect x="238.20" y="293.25" width="22.20" height="6.70" rx="2.20" fill="#444" opacity="0.3825" filter="url(#b2)" />
<rect x="239.00" y="294.95" width="20.60" height="3.30" rx="1.65" fill="#060606" opacity="0.85" filter="url(#b0)" />
<rect x="263.90" y="291.95" width="24.90" height="8.70" rx="2.20" fill="#444" opacity="0.45" filter="url(#b2)" />
<rect x="264.70" y="293.65" width="23.30" height="5.30" rx="2.20" fill="#060606" opacity="1.0" filter="url(#b0)" />
</g>
<rect x="235.3" y="285.6" width="57.00" height="22.70" rx="0.8" fill="none" stroke="#3d3636" stroke-width="1.25"/>
<clipPath id="c8"><rect x="235.3" y="315.3" width="57.00" height="23.30"/></clipPath>
<rect x="235.3" y="315.3" width="57.00" height="23.30" fill="url(#gG)"/>
<g clip-path="url(#c8)">
<rect x="240.80" y="324.55" width="20.80" height="8.90" rx="2.20" fill="#444" opacity="0.45" filter="url(#b2)" />
<rect x="241.60" y="326.25" width="19.20" height="5.50" rx="2.20" fill="#060606" opacity="1.0" filter="url(#b0)" />
<rect x="261.70" y="324.65" width="22.10" height="8.70" rx="2.20" fill="#444" opacity="0.45" filter="url(#b2)" />
<rect x="262.50" y="326.35" width="20.50" height="5.30" rx="2.20" fill="#060606" opacity="1.0" filter="url(#b0)" />
</g>
<rect x="235.3" y="315.3" width="57.00" height="23.30" rx="0.8" fill="none" stroke="#3d3636" stroke-width="1.25"/>
<clipPath id="c9"><rect x="385.4" y="226.5" width="56.90" height="23.10"/></clipPath>
<rect x="385.4" y="226.5" width="56.90" height="23.10" fill="url(#gC)"/>
<g clip-path="url(#c9)">
<rect x="414.00" y="235.50" width="24.00" height="11.00" rx="2.20" fill="#dcdcdc" opacity="0.75" filter="url(#b3)" />
<rect x="437.00" y="230.00" width="6.00" height="20.00" rx="2.20" fill="#dadada" opacity="0.7" filter="url(#b2)" />
<rect x="412.00" y="232.50" width="26.00" height="4.00" rx="2.00" fill="#666" opacity="0.6" filter="url(#b2)" />
<rect x="385.50" y="230.50" width="25.00" height="2.00" rx="1.00" fill="#060606" opacity="0.95" filter="url(#b0)" />
<rect x="411.50" y="229.50" width="27.00" height="3.00" rx="1.50" fill="#060606" opacity="1" filter="url(#b0)" />
<rect x="386.00" y="229.50" width="54.00" height="3.60" rx="1.80" fill="#333" opacity="0.5" filter="url(#b1)" />
</g>
<rect x="385.4" y="226.5" width="56.90" height="23.10" rx="0.8" fill="none" stroke="#3d3636" stroke-width="1.25"/>
<clipPath id="c10"><rect x="385.4" y="257" width="56.90" height="23.00"/></clipPath>
<rect x="385.4" y="257" width="56.90" height="23.00" fill="url(#gW)"/>
<g clip-path="url(#c10)">
<rect x="394.80" y="264.70" width="16.40" height="7.20" rx="2.20" fill="#444" opacity="0.45" filter="url(#b2)" />
<rect x="395.60" y="266.40" width="14.80" height="3.80" rx="1.90" fill="#060606" opacity="1.0" filter="url(#b0)" />
<rect x="415.20" y="264.00" width="20.60" height="8.20" rx="2.20" fill="#444" opacity="0.45" filter="url(#b2)" transform="rotate(-10 425.5 268.1)"/>
<rect x="416.00" y="265.70" width="19.00" height="4.80" rx="2.20" fill="#060606" opacity="1.0" filter="url(#b0)" transform="rotate(-10 425.5 268.1)"/>
</g>
<rect x="385.4" y="257" width="56.90" height="23.00" rx="0.8" fill="none" stroke="#3d3636" stroke-width="1.25"/>
<clipPath id="c11"><rect x="385.4" y="287.8" width="56.90" height="23.10"/></clipPath>
<rect x="385.4" y="287.8" width="56.90" height="23.10" fill="url(#gW)"/>
<g clip-path="url(#c11)">
<rect x="393.50" y="301.20" width="18.50" height="5.20" rx="2.20" fill="#555" opacity="0.7" filter="url(#b1)" />
<rect x="419.00" y="301.20" width="20.00" height="5.20" rx="2.20" fill="#505050" opacity="0.75" filter="url(#b1)" />
<rect x="391.40" y="295.40" width="22.10" height="6.80" rx="2.20" fill="#444" opacity="0.45" filter="url(#b2)" />
<rect x="392.20" y="297.10" width="20.50" height="3.40" rx="1.70" fill="#060606" opacity="1.0" filter="url(#b0)" />
<rect x="417.20" y="294.60" width="22.80" height="7.40" rx="2.20" fill="#444" opacity="0.45" filter="url(#b2)" />
<rect x="418.00" y="296.30" width="21.20" height="4.00" rx="2.00" fill="#060606" opacity="1.0" filter="url(#b0)" />
</g>
<rect x="385.4" y="287.8" width="56.90" height="23.10" rx="0.8" fill="none" stroke="#3d3636" stroke-width="1.25"/>
<clipPath id="c12"><rect x="385.4" y="315.4" width="56.90" height="23.00"/></clipPath>
<rect x="385.4" y="315.4" width="56.90" height="23.00" fill="url(#gG)"/>
<g clip-path="url(#c12)">
<rect x="386.00" y="326.60" width="6.00" height="1.40" rx="0.70" fill="#666" opacity="0.6" filter="url(#b1)" />
<rect x="433.00" y="326.30" width="8.00" height="1.40" rx="0.70" fill="#555" opacity="0.7" filter="url(#b1)" />
<rect x="390.50" y="322.80" width="21.10" height="8.40" rx="2.20" fill="#444" opacity="0.45" filter="url(#b2)" />
<rect x="391.30" y="324.50" width="19.50" height="5.00" rx="2.20" fill="#060606" opacity="1.0" filter="url(#b0)" />
<rect x="412.60" y="322.75" width="22.20" height="7.70" rx="2.20" fill="#444" opacity="0.45" filter="url(#b2)" />
<rect x="413.40" y="324.45" width="20.60" height="4.30" rx="2.15" fill="#060606" opacity="1.0" filter="url(#b0)" />
</g>
<rect x="385.4" y="315.4" width="56.90" height="23.00" rx="0.8" fill="none" stroke="#3d3636" stroke-width="1.25"/>
<text x="32.60" y="245.62" font-size="10.4" fill="#141414" textLength="35.00" lengthAdjust="spacingAndGlyphs" stroke="#141414" stroke-width="0.16">AKAP1</text>
<text x="32.60" y="275.72" font-size="10.4" fill="#141414" textLength="28.80" lengthAdjust="spacingAndGlyphs" stroke="#141414" stroke-width="0.16">DRP1</text>
<text x="32.50" y="302.12" font-size="10.4" fill="#141414" textLength="39.00" lengthAdjust="spacingAndGlyphs" stroke="#141414" stroke-width="0.16">p-DRP1</text>
<text x="33.20" y="331.92" font-size="10.4" fill="#141414" textLength="33.80" lengthAdjust="spacingAndGlyphs" stroke="#141414" stroke-width="0.16">β-actin</text>
<text x="144.00" y="245.02" font-size="10.4" fill="#141414" textLength="35.00" lengthAdjust="spacingAndGlyphs" stroke="#141414" stroke-width="0.16">149 KD</text>
<text x="144.40" y="272.52" font-size="10.4" fill="#141414" textLength="29.60" lengthAdjust="spacingAndGlyphs" stroke="#141414" stroke-width="0.16">79 KD</text>
<text x="144.40" y="303.72" font-size="10.4" fill="#141414" textLength="29.60" lengthAdjust="spacingAndGlyphs" stroke="#141414" stroke-width="0.16">79 KD</text>
<text x="144.40" y="331.72" font-size="10.4" fill="#141414" textLength="29.60" lengthAdjust="spacingAndGlyphs" stroke="#141414" stroke-width="0.16">43 KD</text>
<text x="87.50" y="358.72" font-size="10.4" fill="#141414" textLength="18.50" lengthAdjust="spacingAndGlyphs" stroke="#141414" stroke-width="0.16">B27</text>
<text x="114.60" y="358.72" font-size="10.4" fill="#141414" textLength="13.00" lengthAdjust="spacingAndGlyphs" stroke="#141414" stroke-width="0.16">FA</text>
<text x="193.70" y="242.22" font-size="10.4" fill="#141414" textLength="29.90" lengthAdjust="spacingAndGlyphs" stroke="#141414" stroke-width="0.16">MFN1</text>
<text x="193.50" y="272.82" font-size="10.4" fill="#141414" textLength="30.10" lengthAdjust="spacingAndGlyphs" stroke="#141414" stroke-width="0.16">MFN2</text>
<text x="193.50" y="302.22" font-size="10.4" fill="#141414" textLength="35.20" lengthAdjust="spacingAndGlyphs" stroke="#141414" stroke-width="0.16">PPARα</text>
<text x="195.70" y="329.92" font-size="10.4" fill="#141414" textLength="32.30" lengthAdjust="spacingAndGlyphs" stroke="#141414" stroke-width="0.16">β-actin</text>
<text x="299.30" y="242.72" font-size="10.4" fill="#141414" textLength="30.00" lengthAdjust="spacingAndGlyphs" stroke="#141414" stroke-width="0.16">86 KD</text>
<text x="299.30" y="268.42" font-size="10.4" fill="#141414" textLength="30.00" lengthAdjust="spacingAndGlyphs" stroke="#141414" stroke-width="0.16">86 KD</text>
<text x="299.30" y="300.72" font-size="10.4" fill="#141414" textLength="30.00" lengthAdjust="spacingAndGlyphs" stroke="#141414" stroke-width="0.16">52 KD</text>
<text x="299.30" y="331.42" font-size="10.4" fill="#141414" textLength="30.00" lengthAdjust="spacingAndGlyphs" stroke="#141414" stroke-width="0.16">43 KD</text>
<text x="241.00" y="360.22" font-size="10.4" fill="#141414" textLength="18.60" lengthAdjust="spacingAndGlyphs" stroke="#141414" stroke-width="0.16">B27</text>
<text x="267.80" y="360.22" font-size="10.4" fill="#141414" textLength="13.00" lengthAdjust="spacingAndGlyphs" stroke="#141414" stroke-width="0.16">FA</text>
<text x="344.20" y="244.32" font-size="10.4" fill="#141414" textLength="37.20" lengthAdjust="spacingAndGlyphs" stroke="#141414" stroke-width="0.16">COX5B</text>
<text x="345.00" y="275.32" font-size="10.4" fill="#141414" textLength="33.00" lengthAdjust="spacingAndGlyphs" stroke="#141414" stroke-width="0.16">ATP5A</text>
<text x="345.30" y="304.72" font-size="10.4" fill="#141414" textLength="35.20" lengthAdjust="spacingAndGlyphs" stroke="#141414" stroke-width="0.16">CPT1B</text>
<text x="345.00" y="335.32" font-size="10.4" fill="#141414" textLength="32.20" lengthAdjust="spacingAndGlyphs" stroke="#141414" stroke-width="0.16">β-actin</text>
<text x="448.70" y="243.72" font-size="10.4" fill="#141414" textLength="30.00" lengthAdjust="spacingAndGlyphs" stroke="#141414" stroke-width="0.16">14 KD</text>
<text x="448.70" y="275.32" font-size="10.4" fill="#141414" textLength="30.00" lengthAdjust="spacingAndGlyphs" stroke="#141414" stroke-width="0.16">55 KD</text>
<text x="448.70" y="302.72" font-size="10.4" fill="#141414" textLength="30.00" lengthAdjust="spacingAndGlyphs" stroke="#141414" stroke-width="0.16">78 KD</text>
<text x="448.70" y="332.32" font-size="10.4" fill="#141414" textLength="30.00" lengthAdjust="spacingAndGlyphs" stroke="#141414" stroke-width="0.16">43 KD</text>
<text x="395.00" y="360.22" font-size="10.4" fill="#141414" textLength="18.50" lengthAdjust="spacingAndGlyphs" stroke="#141414" stroke-width="0.16">B27</text>
<text x="421.70" y="360.22" font-size="10.4" fill="#141414" textLength="13.00" lengthAdjust="spacingAndGlyphs" stroke="#141414" stroke-width="0.16">FA</text>
</svg>
</body>
</html>
